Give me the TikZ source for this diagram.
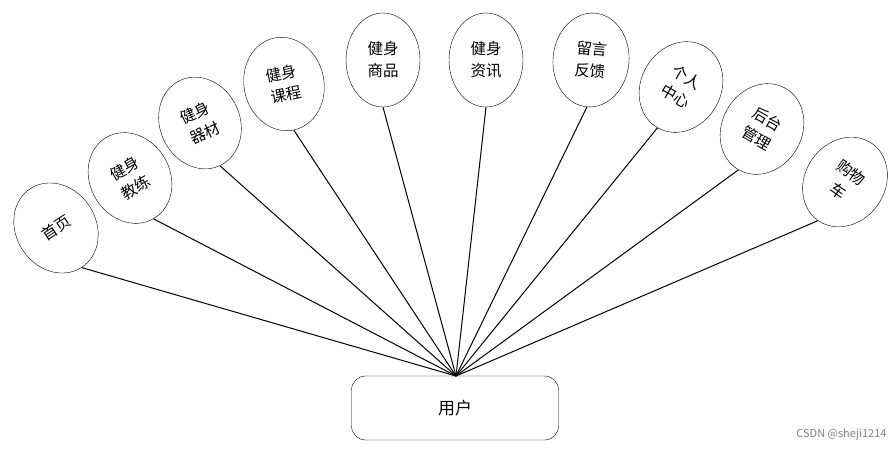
\documentclass[tikz,border=0pt]{standalone}
\usepackage{fontspec}
\setmainfont{Noto Sans CJK SC}
\usetikzlibrary{shapes.geometric}
\begin{document}
\begin{tikzpicture}[x=1pt,y=-1pt,
  ell/.style={draw,ellipse,minimum width=80pt,minimum height=94pt,inner sep=0pt,align=center,font=\fontsize{15.5}{22}\selectfont},
  link/.style={draw,line width=1pt}]
\useasboundingbox (0,0) rectangle (894,448);
\node[ell,rotate=33] (a) at (56,228) {首页};
\node[ell,rotate=30] (b) at (130,178) {健身\\教练};
\node[ell,rotate=25] (c) at (200,123) {健身\\器材};
\node[ell,rotate=12] (d) at (284,84) {健身\\课程};
\node[ell,minimum width=74pt] (e) at (383,60) {健身\\商品};
\node[ell,minimum width=74pt] (f) at (486,60) {健身\\资讯};
\node[ell,minimum width=76pt,rotate=-5] (g) at (591,60) {留言\\反馈};
\node[ell,rotate=-30] (h) at (681,87) {个人\\中心};
\node[ell,rotate=-30] (i) at (762,129) {后台\\管理};
\node[ell,rotate=-35] (j) at (845,182) {购物\\车};
\node[draw,rounded corners=14pt,minimum width=207pt,minimum height=64pt,font=\fontsize{17}{20}\selectfont] (u) at (455,408) {用户};
\coordinate (hub) at (456,376);
\foreach \n in {a,b,c,d,e,f,g,h,i,j} \draw[link] (\n.south) -- (hub);
\node[anchor=south east,font=\fontsize{11}{12}\selectfont,text=gray] (w) at (890,444) {CSDN @sheji1214};
\end{tikzpicture}
\end{document}
